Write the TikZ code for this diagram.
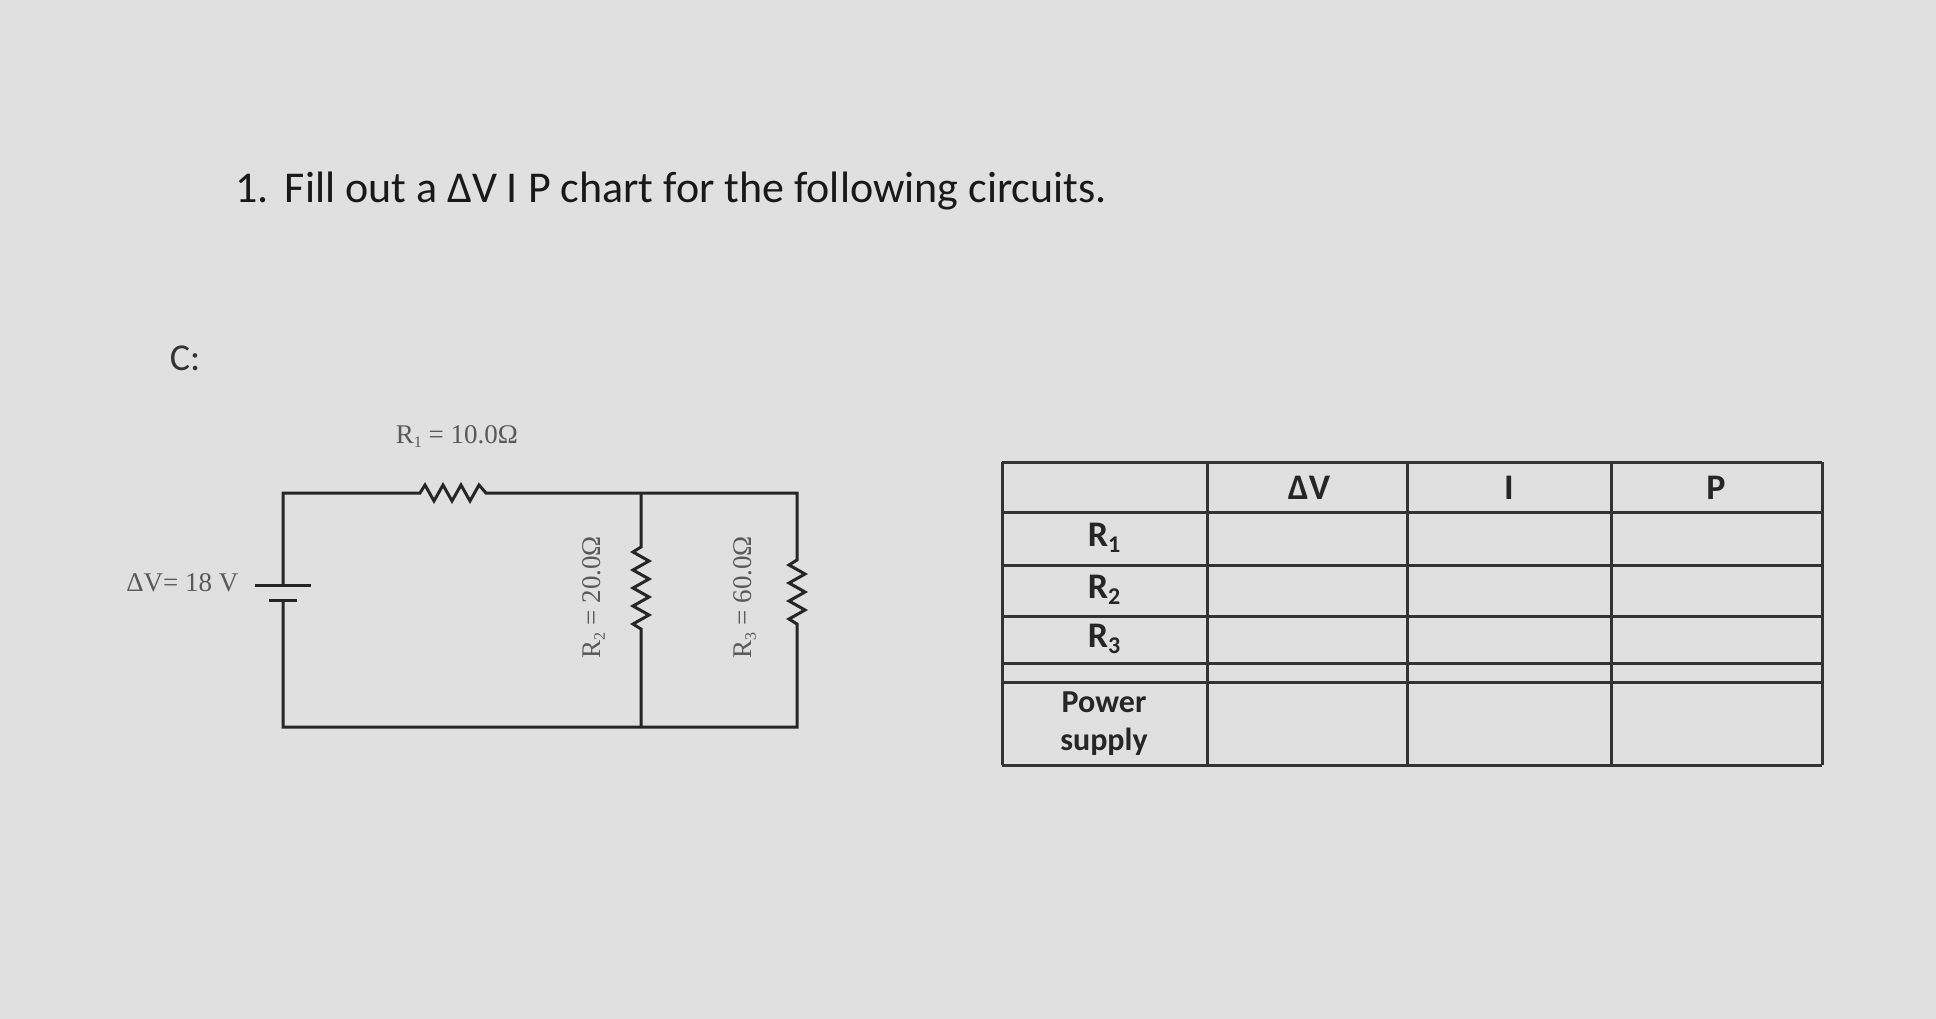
\documentclass[tikz,border=0pt]{standalone}
\usepackage{fontspec}
\setmainfont{Carlito}
\newfontfamily\serifc{Liberation Serif}
\newcommand{\tsub}[1]{\raisebox{-6pt}{\fontsize{24}{24}\selectfont #1}}
\newcommand{\csub}[1]{\raisebox{-4pt}{\fontsize{16}{16}\selectfont #1}}
\begin{document}
\begin{tikzpicture}[x=1pt,y=-1pt,
  wire/.style={line width=3pt,color=black!85},
  grid/.style={line width=3pt,color=black!80},
  clab/.style={font=\serifc\fontsize{27}{28}\selectfont,text=black!65},
  tlab/.style={font=\bfseries\fontsize{36}{36}\selectfont,text=black!85},
]
\fill[black!12] (0,0) rectangle (1936,1019);
\useasboundingbox (0,0) rectangle (1936,1019);
\node[anchor=west,font=\fontsize{44}{48}\selectfont,text=black!90] (title) at (232,191) {1.\hspace{16pt}Fill out a ΔV I P chart for the following circuits.};
\node[font=\fontsize{38}{40}\selectfont,text=black!80] (c) at (185,358) {C:};
% circuit
\coordinate (tl) at (283,493); \coordinate (bl) at (283,727);
\coordinate (m) at (641,493); \coordinate (mb) at (641,727);
\coordinate (tr) at (797,493); \coordinate (br) at (797,727);
\coordinate (b1) at (283,585); \coordinate (b2) at (283,600);
\draw[wire] (b1) -- (tl) -- (420,493) -- ++(5,-8) -- ++(9,16) -- ++(9,-16) -- ++(9,16) -- ++(9,-16) -- ++(9,16) -- ++(9,-16) -- ++(7,8) -- (m) -- (tr) -- (797,560)
  -- ++(-8,5) -- ++(16,9) -- ++(-16,9) -- ++(16,9) -- ++(-16,9) -- ++(16,9) -- ++(-16,9) -- ++(8,5) -- (br) -- (mb) -- (bl) -- (b2);
\draw[wire] (m) -- (641,547) -- ++(-8,5) -- ++(16,9) -- ++(-16,9) -- ++(16,9) -- ++(-16,9) -- ++(16,9) -- ++(-16,9) -- ++(16,9) -- ++(-16,9) -- ++(8,5) -- (mb);
\draw[wire] (255,585) -- (311,585);
\draw[wire] (269,600) -- (297,600);
\node[clab] (r1) at (457,437) {R\csub{1} = 10.0Ω};
\node[clab,rotate=90] (r2) at (594,597) {R\csub{2} = 20.0Ω};
\node[clab,rotate=90] (r3) at (745,597) {R\csub{3} = 60.0Ω};
\node[clab,anchor=east] (dv) at (242,583) {ΔV= 18 V};
% table
\foreach \x in {1002,1207,1407,1611,1822} \draw[grid] (\x,462) -- (\x,765);
\foreach \y in {462,512,565,616,663,682,765} \draw[grid] (1002,\y) -- (1822,\y);
\node[tlab] (h1) at (1309,488) {ΔV};
\node[tlab] (h2) at (1509,488) {I};
\node[tlab] (h3) at (1716,488) {P};
\node[tlab] (a1) at (1104,538) {R\tsub{1}};
\node[tlab] (a2) at (1104,590) {R\tsub{2}};
\node[tlab] (a3) at (1104,639) {R\tsub{3}};
\node[tlab,font=\bfseries\fontsize{32}{38}\selectfont,align=center] (a4) at (1104,724) {Power\\supply};
\end{tikzpicture}
\end{document}
